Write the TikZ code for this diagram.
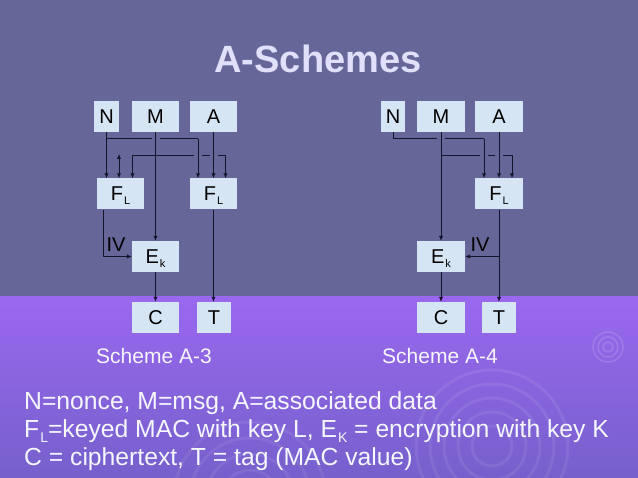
\documentclass[tikz,border=0pt]{standalone}
\usepackage{fontspec}
\setmainfont{Liberation Sans}
\usetikzlibrary{arrows.meta,calc}

\definecolor{slate}{RGB}{102,102,153}
\definecolor{lowtop}{RGB}{153,104,238}
\definecolor{lowbot}{RGB}{118,96,204}
\definecolor{boxblue}{RGB}{214,229,244}
\definecolor{wirecol}{RGB}{20,20,45}
\definecolor{titlecol}{RGB}{224,224,250}
\definecolor{keycol}{RGB}{246,246,255}

\newcommand{\lowsub}[2][11]{\hspace{1pt}{\fontsize{#1}{#1}\selectfont\raisebox{-.35em}{#2}}}

\tikzset{
  schemebox/.style={fill=boxblue, minimum width=47pt, minimum height=31pt, inner sep=0pt,
    text height=14pt, text depth=0pt, font=\fontsize{20}{20}\selectfont},
  wire/.style={draw=wirecol, line width=1pt},
  arr/.style={wire, -{Latex[length=5pt,width=4.5pt]}},
  bridge/.style={preaction={draw=slate, line width=8pt, -, shorten <=2pt, shorten >=2pt}},
  keytext/.style={anchor=base west, text=keycol, inner sep=0pt, font=\fontsize{24.7}{24.7}\selectfont},
  schemecap/.style={anchor=base, text=keycol, inner sep=0pt, font=\fontsize{21}{21}\selectfont},
  ivtext/.style={inner sep=0pt, font=\fontsize{20}{20}\selectfont},
}

\begin{document}
\begin{tikzpicture}[x=1pt,y=-1pt]
  \useasboundingbox (0,0) rectangle (638,478);
  \clip (0,0) rectangle (638,478);

  % background
  \fill[slate] (0,0) rectangle (638,297);
  \shade[top color=lowtop, bottom color=lowbot] (0,297) rectangle (638,478);
  \foreach \r in {5,10,15} \draw[white, opacity=.15, line width=1.5pt] (608,347) circle[radius=\r pt];
  \foreach \r in {20,34,48,62,76} \draw[white, opacity=.08, line width=3pt] (492,446) circle[radius=\r pt];
  \foreach \r in {28,44,60,76} \draw[white, opacity=.07, line width=3pt] (250,498) circle[radius=\r pt];

  \node[anchor=base, font=\bfseries\fontsize{38}{38}\selectfont, text=titlecol] (title) at (318,73) {A-Schemes};

  % scheme A-3
  \node[schemebox, minimum width=25pt] (N1) at (106.5,116.5) {N};
  \node[schemebox] (M1) at (155.5,116.5) {M};
  \node[schemebox] (A1) at (213.5,116.5) {A};
  \node[schemebox] (F1) at (120.5,194) {F\lowsub{L}};
  \node[schemebox] (F2) at (213.5,194) {F\lowsub{L}};
  \node[schemebox] (E1) at (155.5,256.5) {E\lowsub{k}};
  \node[schemebox] (C1) at (155.5,317.5) {C};
  \node[schemebox, minimum width=34pt] (T1) at (214,317.5) {T};

  \coordinate (n1k) at (198,139);
  \coordinate (m1k) at (155.5,156);
  \coordinate (q1) at (119,154);
  \draw[arr] (N1) -- (N1 |- F1.north);
  \draw[wire] (N1.south) |- (n1k);
  \draw[arr, bridge] (M1) -- (E1);
  \draw[arr] (m1k) -| ($(F1.north)+(12,0)$);
  \draw[arr] (m1k) -| ($(F2.north)+(12,0)$);
  \draw[arr, bridge] (n1k) -- (n1k |- F2.north);
  \draw[arr, bridge] (A1) -- (F2);
  \draw[wire, {Latex[length=5pt,width=4.5pt]}-{Latex[length=5pt,width=4.5pt]}] (q1) -- (q1 |- F1.north);
  \draw[arr] ($(F1.south)+(-17,0)$) |- (E1.west);
  \node[ivtext] (iv1) at (116,245) {IV};
  \draw[arr] (E1) -- (C1);
  \draw[arr] (F2) -- (F2 |- T1.north);

  % scheme A-4
  \node[schemebox, minimum width=24pt] (N2) at (393,116.5) {N};
  \node[schemebox, minimum width=48pt] (M2) at (441,116.5) {M};
  \node[schemebox, minimum width=48pt] (A2) at (499,116.5) {A};
  \node[schemebox, minimum width=48pt] (F3) at (499,194) {F\lowsub{L}};
  \node[schemebox, minimum width=48pt] (E2) at (441,256.5) {E\lowsub{k}};
  \node[schemebox, minimum width=48pt] (C2) at (441,317.5) {C};
  \node[schemebox, minimum width=34pt] (T2) at (499,317.5) {T};

  \coordinate (n2k) at (484,139);
  \coordinate (m2k) at (441,156);
  \draw[wire] (N2.south) |- (n2k);
  \draw[arr, bridge] (M2) -- (E2);
  \draw[arr] (m2k) -| ($(F3.north)+(13,0)$);
  \draw[arr, bridge] (n2k) -- (n2k |- F3.north);
  \draw[arr, bridge] (A2) -- (F3);
  \draw[arr] (F3) -- (T2);
  \coordinate (f3k) at (F3.south |- E2.east);
  \draw[arr] (f3k) -- (E2.east);
  \node[ivtext] (iv2) at (480,245) {IV};
  \draw[arr] (E2) -- (C2);

  % captions and key
  \node[schemecap] (cap1) at (154,364) {Scheme A-3};
  \node[schemecap] (cap2) at (440,364) {Scheme A-4};
  \node[keytext] (key1) at (24,410) {N=nonce, M=msg, A=associated data};
  \node[keytext] (key2) at (24,438) {F\lowsub[14]{L}=keyed MAC with key L, E\lowsub[14]{K} = encryption with key K};
  \node[keytext] (key3) at (24,466) {C = ciphertext, T = tag (MAC value)};
\end{tikzpicture}
\end{document}
